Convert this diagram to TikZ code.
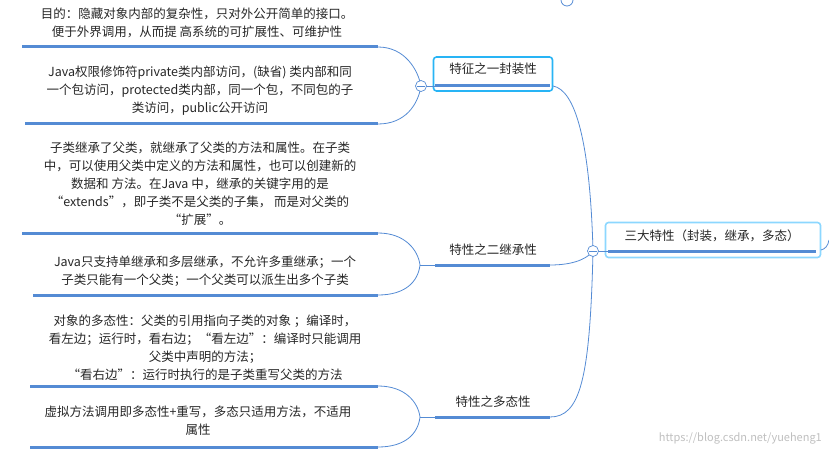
\documentclass[tikz,border=0pt]{standalone}
\usepackage{fontspec}
\setmainfont{Noto Sans CJK SC}
\begin{document}
\begin{tikzpicture}[x=1pt,y=-1pt,
  txt/.style={align=center,font=\fontsize{12.5}{18}\selectfont,text=black!85,inner sep=0pt},
  bar/.style={line width=3pt,draw=blue!50!cyan!60!black!80,color={rgb,255:red,84;green,139;blue,212}},
  con/.style={draw={rgb,255:red,84;green,139;blue,212},line width=0.8pt},
  coll/.style={circle,draw={rgb,255:red,84;green,139;blue,212},fill=white,minimum size=11pt,inner sep=0pt,line width=0.7pt}]
\useasboundingbox (0,0) rectangle (829,457);
% leaf texts
\node[txt] (t1) at (197,23) {目的：隐藏对象内部的复杂性，只对外公开简单的接口。\\ 便于外界调用，从而提 高系统的可扩展性、可维护性};
\node[txt] (t2) at (200,91) {Java权限修饰符private类内部访问，(缺省) 类内部和同\\一个包访问，protected类内部，同一个包，不同包的子\\类访问，public公开访问};
\node[txt] (t3) at (200,184) {子类继承了父类，就继承了父类的方法和属性。在子类\\中，可以使用父类中定义的方法和属性，也可以创建新的\\数据和 方法。在Java 中，继承的关键字用的是\\“extends”，即子类不是父类的子集， 而是对父类的\\“扩展”。};
\node[txt] (t4) at (205,271) {Java只支持单继承和多层继承，不允许多重继承；一个\\子类只能有一个父类；一个父类可以派生出多个子类};
\node[txt] (t5) at (205,348) {对象的多态性：父类的引用指向子类的对象 ；编译时，\\看左边；运行时，看右边；“看左边”：编译时只能调用\\父类中声明的方法；\\“看右边”：运行时执行的是子类重写父类的方法};
\node[txt] (t6) at (198,421) {虚拟方法调用即多态性+重写，多态只适用方法，不适用\\属性};
% leaf bars
\coordinate (b1) at (378,47); \draw[bar] (22,47) -- (b1);
\coordinate (b2) at (378,124); \draw[bar] (25,124) -- (b2);
\coordinate (b3) at (378,233); \draw[bar] (22,233) -- (b3);
\coordinate (b4) at (378,295); \draw[bar] (33,295) -- (b4);
\coordinate (b5) at (378,386); \draw[bar] (30,386) -- (b5);
\coordinate (b6) at (378,447); \draw[bar] (30,447) -- (b6);
% branch nodes
\node[draw={rgb,255:red,40;green,180;blue,245},line width=1.6pt,rounded corners=3pt,minimum width=119pt,minimum height=34pt,inner sep=0pt] (n1) at (493,74) {};
\node[txt] at (493,69) {特征之一封装性};
\draw[bar] (435,86) -- (550,86);
\node[txt] (n2l) at (493,250) {特性之二继承性};
\draw[bar] (435,265) -- (550,265);
\node[txt] (n3l) at (493,402) {特性之多态性};
\draw[bar] (435,417) -- (550,417);
% root
\node[draw={rgb,255:red,140;green,215;blue,255},line width=1.6pt,rounded corners=3pt,minimum width=215pt,minimum height=35pt,inner sep=0pt] (root) at (713,240) {};
\node[txt] at (712,236) {三大特性（封装，继承，多态）};
\draw[bar] (608,251) -- (816,251);
% connectors
\coordinate (j1) at (421,86); \coordinate (j2) at (420,265); \coordinate (j3) at (420,417);
\draw[con] (b1) .. controls (405,47) and (418,70) .. (j1) .. controls (418,105) and (405,124) .. (b2);
\draw[con] (b3) .. controls (405,233) and (418,250) .. (j2) .. controls (418,282) and (405,295) .. (b4);
\draw[con] (b5) .. controls (405,386) and (418,402) .. (j3) .. controls (418,434) and (405,447) .. (b6);
\draw[con] (j1) -- (435,86); \draw[con] (j2) -- (435,265); \draw[con] (j3) -- (435,417);
\coordinate (r) at (593,251);
\draw[con] (553,86) .. controls (575,90) and (590,140) .. (r);
\draw[con] (550,265) .. controls (580,265) and (590,255) .. (r);
\draw[con] (550,417) .. controls (580,417) and (590,380) .. (r);
\draw[con] (r) -- (608,251);
\draw[con] (821,250) .. controls (825,249) and (828,246) .. (829,240);
\node[coll] (c1) at (j1) {}; \draw[con,line width=0.6pt] (417,86) -- (425,86);
\node[coll] (c2) at (r) {}; \draw[con,line width=0.6pt] (589,251) -- (597,251);
\draw[con] (561,0) arc (180:0:6);
% watermark
\node[font=\fontsize{11}{13}\selectfont,text=black!25,anchor=east,inner sep=0pt] (wm) at (822,438) {https://blog.csdn.net/yueheng1};
\end{tikzpicture}
\end{document}
